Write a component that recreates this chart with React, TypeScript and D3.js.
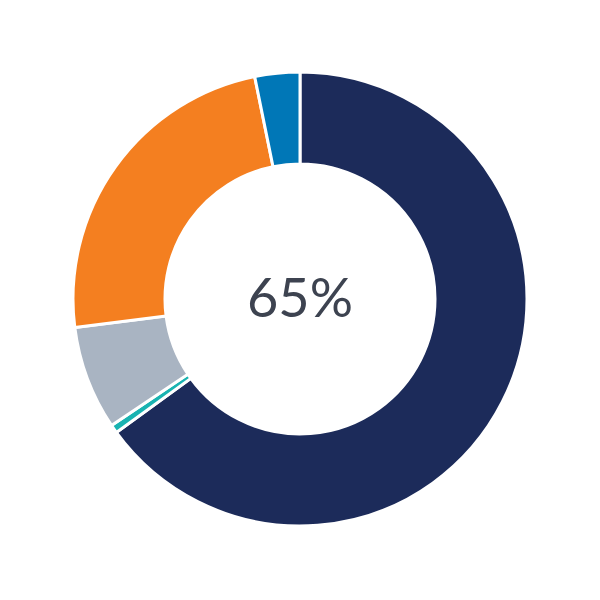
import React, { useEffect, useRef } from 'react'
import * as d3 from 'd3'

const labels = ['Navy', 'Teal', 'Gray', 'Orange', 'Blue']
const values = [65, 0.6, 7.4, 23.8, 3.2]
const colors = ['#1c2b5a', '#19b3b1', '#a9b4c2', '#f47f20', '#0077b7']
const centerLabel = '65%'

const App: React.FC = () => {
  const svgRef = useRef<SVGSVGElement>(null)

  useEffect(() => {
    if (!svgRef.current) return
    const svg = d3.select(svgRef.current)
    svg.selectAll('*').remove()

    const width = 600
    const height = 600
    const outer = 227
    const inner = 135

    const g = svg
      .attr('width', width)
      .attr('height', height)
      .append('g')
      .attr('transform', `translate(300, 299)`)

    const pie = d3.pie<number>().sort(null).value(d => d)
    const arc = d3.arc<d3.PieArcDatum<number>>()
      .innerRadius(inner)
      .outerRadius(outer)

    g.selectAll('path')
      .data(pie(values))
      .enter()
      .append('path')
      .attr('d', arc)
      .attr('fill', (d, i) => colors[i])
      .attr('stroke', '#fff')
      .attr('stroke-width', 3)
      .append('title')
      .text((d, i) => labels[i])

    g.append('text')
      .attr('x', 0)
      .attr('y', -3)
      .attr('text-anchor', 'middle')
      .attr('dominant-baseline', 'central')
      .style('font-family', 'Lato, sans-serif')
      .style('font-size', '54px')
      .style('font-weight', 400)
      .style('fill', '#3d4350')
      .text(centerLabel)
  }, [])

  return (
    <div style={{ position: 'absolute', left: 0, top: 0 }}>
      <svg ref={svgRef}></svg>
    </div>
  )
}

export default App
